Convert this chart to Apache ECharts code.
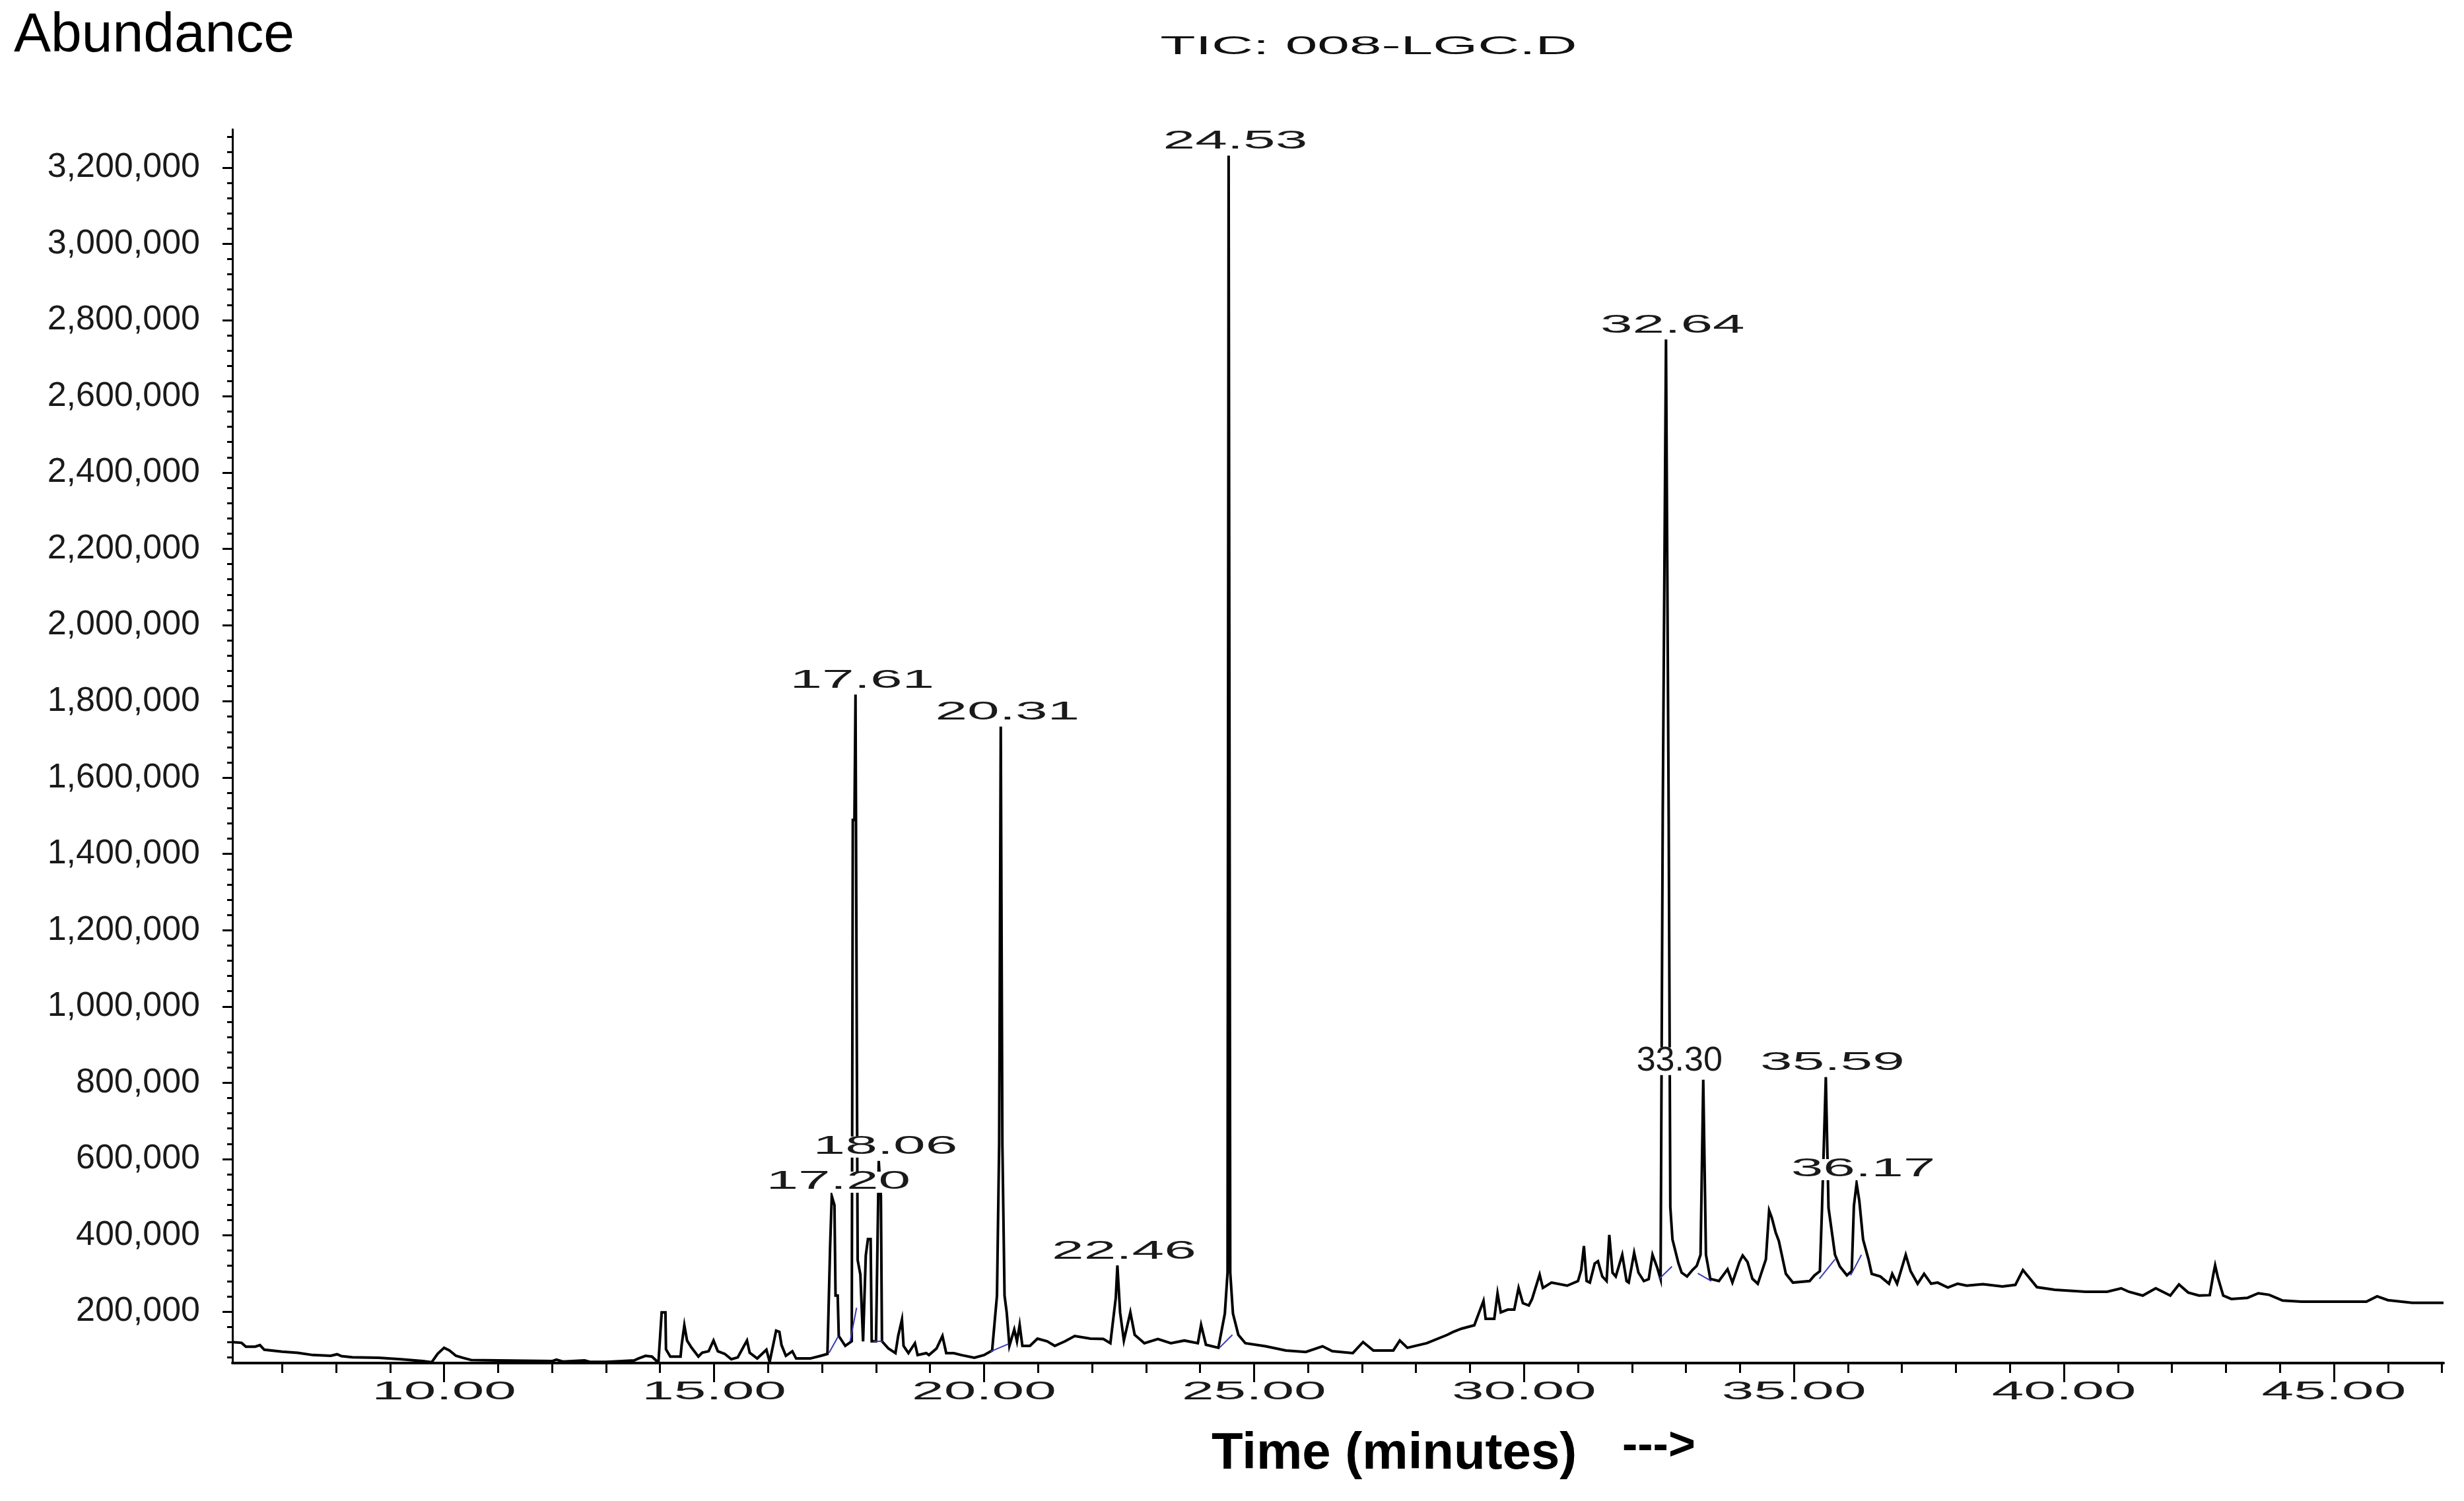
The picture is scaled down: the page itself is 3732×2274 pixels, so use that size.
<!DOCTYPE html>
<html>
<head>
<meta charset="utf-8">
<script src="https://cdn.jsdelivr.net/npm/echarts@6/dist/echarts.min.js"></script>
<style>html,body{margin:0;padding:0;background:#fff}#c{width:3732px;height:2274px}</style>
</head>
<body>
<div id="c"></div>
<script>
// TIC chromatogram: [time (min), abundance]
const chromatogram = [
[6.08,120000],[6.10,118000],[6.25,118000],[6.33,108000],[6.50,108000],[6.59,112000],[6.67,100000],[7.00,95000],[7.29,92000],[7.57,86000],[7.90,84000],[8.02,88000],[8.10,83000],[8.30,80000],[8.79,79000],[9.20,75000],[9.61,70000],[9.77,67000],[9.88,89000],[10.00,105000],[10.10,98000],[10.22,84000],[10.34,79000],[10.50,73000],
[11.00,72000],[11.50,71000],[12.00,70000],[12.08,74000],[12.20,69000],[12.60,72000],[12.70,68000],[13.00,68000],[13.30,70000],[13.52,72000],[13.60,77000],[13.73,84000],[13.85,82000],[13.97,66000],[14.03,198000],[14.10,198000],[14.11,101000],[14.19,82000],[14.38,82000],[14.40,112000],[14.45,164000],[14.50,124000],[14.58,106000],[14.71,82000],[14.78,92000],[14.90,96000],[14.99,124000],[15.07,96000],[15.20,89000],[15.32,75000],[15.44,80000],[15.61,124000],[15.66,92000],[15.80,77000],[15.97,100000],[16.03,68000],[16.15,150000],[16.21,147000],[16.25,112000],[16.33,84000],[16.45,96000],[16.52,77000],[16.78,77000],[16.98,84000],
[17.10,89000],[17.15,372000],[17.18,503000],[17.23,479000],[17.25,242000],[17.29,242000],[17.31,136000],[17.43,110000],[17.55,122000],[17.57,1489000],[17.60,1489000],[17.62,1818000],[17.64,1818000],[17.65,666000],[17.66,335000],[17.71,297000],[17.76,122000],[17.81,347000],[17.83,347000],[17.85,390000],[17.90,390000],[17.92,122000],[18.00,122000],[18.05,595000],[18.09,503000],[18.11,122000],[18.23,103000],[18.36,91000],[18.41,136000],[18.48,179000],[18.51,110000],[18.60,91000],[18.72,117000],[18.77,86000],[18.93,91000],[18.98,86000],[19.12,103000],[19.23,136000],[19.30,91000],[19.44,91000],[19.58,86000],[19.82,79000],
[20.00,86000],[20.15,98000],[20.24,242000],[20.28,637000],[20.31,1734000],[20.34,637000],[20.38,242000],[20.42,198000],[20.47,110000],[20.56,153000],[20.61,122000],[20.66,165000],[20.71,110000],[20.85,110000],[20.99,129000],[21.17,122000],[21.31,110000],[21.50,122000],[21.68,136000],[21.97,129000],[22.21,128000],[22.34,117000],[22.44,236000],[22.47,321000],[22.52,198000],[22.59,124000],[22.71,198000],[22.79,139000],[22.97,117000],[23.22,128000],[23.46,117000],[23.71,124000],[23.96,117000],[24.02,165000],[24.11,113000],[24.34,105000],[24.46,195000],[24.51,302000],[24.53,3231000],[24.56,302000],[24.61,195000],[24.71,139000],[24.84,117000],
[25.21,109000],[25.59,98000],[25.96,94000],[26.27,109000],[26.45,96000],[26.83,91000],[27.02,120000],[27.21,98000],[27.58,98000],[27.70,124000],[27.84,105000],[28.20,117000],[28.58,139000],[28.68,146000],[28.84,155000],[29.08,164000],[29.17,198000],[29.25,228000],[29.29,181000],[29.45,181000],[29.51,248000],[29.57,198000],[29.70,205000],[29.82,205000],[29.90,262000],[29.98,222000],
[30.09,216000],[30.15,233000],[30.29,297000],[30.35,262000],[30.51,276000],[30.80,268000],[31.00,280000],[31.06,309000],[31.11,372000],[31.16,280000],[31.22,276000],[31.31,326000],[31.37,332000],[31.45,292000],[31.53,280000],[31.58,401000],[31.64,302000],[31.70,292000],[31.82,349000],[31.90,280000],[31.94,276000],[32.04,354000],[32.12,302000],[32.22,280000],[32.31,285000],[32.38,349000],[32.47,314000],[32.53,285000],[32.57,1510000],[32.63,2749000],[32.68,1500000],[32.71,474000],[32.75,389000],[32.86,327000],[32.92,302000],[33.02,292000],[33.12,309000],[33.20,320000],[33.27,349000],[33.32,808000],[33.37,349000],[33.45,286000],[33.61,280000],[33.77,311000],[33.86,276000],[33.99,330000],[34.05,347000],[34.14,330000],[34.23,286000],[34.33,273000],[34.48,337000],[34.54,465000],[34.59,446000],[34.66,408000],[34.72,385000],[34.85,299000],[34.98,276000],
[35.29,280000],[35.38,295000],[35.48,306000],[35.52,472000],[35.59,815000],[35.64,472000],[35.76,349000],[35.85,318000],[35.98,295000],[36.07,306000],[36.11,477000],[36.16,536000],[36.21,491000],[36.28,389000],[36.38,337000],[36.44,299000],[36.60,292000],[36.76,273000],[36.82,299000],[36.91,273000],[37.07,349000],[37.16,306000],[37.29,273000],[37.41,299000],[37.54,273000],[37.66,276000],[37.85,263000],[38.03,273000],[38.20,268000],[38.50,272000],[38.86,266000],[39.10,270000],[39.24,309000],[39.35,290000],[39.50,264000],[39.83,257000],
[40.40,252000],[40.80,252000],[41.06,261000],[41.20,252000],[41.46,242000],[41.70,261000],[41.97,242000],[42.13,271000],[42.30,250000],[42.50,242000],[42.70,243000],[42.77,300000],[42.80,321000],[42.85,290000],[42.95,242000],[43.10,233000],[43.40,236000],[43.60,248000],[43.80,244000],[44.05,229000],[44.40,226000],[45.00,226000],[45.60,226000],[45.80,240000],[46.00,230000],[46.45,223000],[47.03,223000]
];

// Labelled peaks
const peakTimes  = [17.18, 17.62, 18.05, 20.31, 22.47, 24.53, 32.63, 33.32, 35.59, 36.16];
const peakTops   = [503000, 1818000, 595000, 1734000, 321000, 3231000, 2749000, 808000, 815000, 536000];
const peakLabels = ['17.20','17.61','18.06','20.31','22.46','24.53','32.64','33.30','35.59','36.17'];

// Integration baselines (thin blue segments)
const integrationBaselines = [
  [[17.13, 92000], [17.30, 135000]],
  [[17.52, 122000], [17.64, 210000]],
  [[17.95, 122000], [18.12, 122000]],
  [[20.12, 95000], [20.45, 115000]],
  [[24.36, 105000], [24.60, 139000]],
  [[32.50, 285000], [32.74, 318000]],
  [[33.22, 300000], [33.47, 280000]],
  [[35.47, 286000], [35.76, 337000]],
  [[36.05, 295000], [36.25, 349000]]
];

const xTickValues = [10, 15, 20, 25, 30, 35, 40, 45];
const yTickValues = [200000, 400000, 600000, 800000, 1000000, 1200000, 1400000, 1600000,
                     1800000, 2000000, 2200000, 2400000, 2600000, 2800000, 3000000, 3200000];

const X_MIN = 6.08, X_MAX = 47.03, Y_MIN = 65000, Y_MAX = 3300000;
const FONT = "'Liberation Sans', Arial, Helvetica, sans-serif";
const STRETCH = 2.3;

const chart = echarts.init(document.getElementById('c'), null, {renderer: 'canvas'});

const baselineSeries = integrationBaselines.map(seg => ({
  type: 'line', data: seg, symbol: 'none', silent: true, z: 3,
  lineStyle: {color: '#3a3ab8', width: 2}, animation: false
}));

const option = {
  animation: false,
  backgroundColor: '#ffffff',
  grid: {left: 352, right: 31, top: 196, bottom: 209, containLabel: false, outerBoundsMode: 'none'},
  xAxis: {
    type: 'value', min: X_MIN, max: X_MAX, splitNumber: 8,
    axisLine: {show: true, onZero: false, lineStyle: {color: '#000', width: 4}},
    axisTick: {show: true, inside: false, length: 29, customValues: xTickValues, lineStyle: {color: '#000', width: 3}},
    minorTick: {show: true, splitNumber: 5, length: 15, lineStyle: {color: '#000', width: 3}},
    axisLabel: {show: false},
    splitLine: {show: false}, minorSplitLine: {show: false}
  },
  yAxis: {
    type: 'value', min: Y_MIN, max: Y_MAX, splitNumber: 16,
    axisLine: {show: true, onZero: false, lineStyle: {color: '#000', width: 3}},
    axisTick: {show: true, inside: false, length: 15, customValues: yTickValues, lineStyle: {color: '#000', width: 3}},
    minorTick: {show: true, splitNumber: 5, length: 8, lineStyle: {color: '#000', width: 3}},
    axisLabel: {
      show: true, customValues: yTickValues, margin: 49,
      fontSize: 52, fontFamily: FONT, color: '#1a1a1a',
      formatter: v => Number(v).toLocaleString('en-US')
    },
    splitLine: {show: false}, minorSplitLine: {show: false}
  },
  graphic: [
    {type: 'text', x: 21, y: 55, silent: true,
     style: {text: 'Abundance', fontSize: 84, fontFamily: FONT, fill: '#000', align: 'left', verticalAlign: 'middle'}},
    {type: 'text', x: 2073, y: 72, scaleX: STRETCH, silent: true,
     style: {text: 'TIC: 008-LGC.D', fontSize: 38, fontFamily: FONT, fill: '#111', align: 'center', verticalAlign: 'middle'}},
    {type: 'text', x: 1835, y: 2203, silent: true,
     style: {text: 'Time (minutes)', fontSize: 78, fontWeight: 'bold', fontFamily: FONT, fill: '#000', align: 'left', verticalAlign: 'middle'}},
    {type: 'text', x: 2457, y: 2192, silent: true,
     style: {text: '--->', fontSize: 70, fontWeight: 'bold', fontFamily: FONT, fill: '#000', align: 'left', verticalAlign: 'middle'}}
  ],
  series: [
    {
      type: 'line', data: chromatogram, symbol: 'none', showSymbol: false, silent: true, z: 2,
      lineStyle: {color: '#000', width: 4, join: 'miter'}, animation: false
    },
    ...baselineSeries,
    {
      // stretched tick labels under the time axis
      type: 'custom', silent: true, clip: false, z: 5,
      data: xTickValues.map(v => [v, Y_MIN]),
      encode: {x: 0, y: 1},
      renderItem: (params, api) => {
        const p = api.coord([api.value(0), api.value(1)]);
        return {
          type: 'text', x: p[0], y: p[1] + 45, scaleX: STRETCH,
          style: {text: api.value(0).toFixed(2), fontSize: 38, fontFamily: FONT, fill: '#1a1a1a',
                  align: 'center', verticalAlign: 'middle'}
        };
      }
    },
    {
      // peak retention-time labels (white boxes interrupt lines behind them)
      type: 'custom', silent: true, clip: false, z: 10,
      data: peakTimes.map((t, i) => [t, peakTops[i]]),
      encode: {x: 0, y: 1},
      renderItem: (params, api) => {
        const i = params.dataIndex;
        const p = api.coord([api.value(0), api.value(1)]);
        const txt = peakLabels[i];
        if (txt === '33.30') {
          return {
            type: 'text', x: p[0] - 36, y: p[1] - 28,
            style: {text: txt, fontSize: 52, fontFamily: FONT, fill: '#1a1a1a', align: 'center',
                    verticalAlign: 'middle', backgroundColor: '#fff', lineHeight: 42, padding: [0, 2]}
          };
        }
        return {
          type: 'text', x: p[0] + 10, y: p[1] - 21, scaleX: STRETCH,
          style: {text: txt, fontSize: 38, fontFamily: FONT, fill: '#1a1a1a', align: 'center',
                  verticalAlign: 'middle', backgroundColor: '#fff', lineHeight: 32, padding: [0, 2]}
        };
      }
    }
  ]
};
chart.setOption(option);
</script>
</body>
</html>
